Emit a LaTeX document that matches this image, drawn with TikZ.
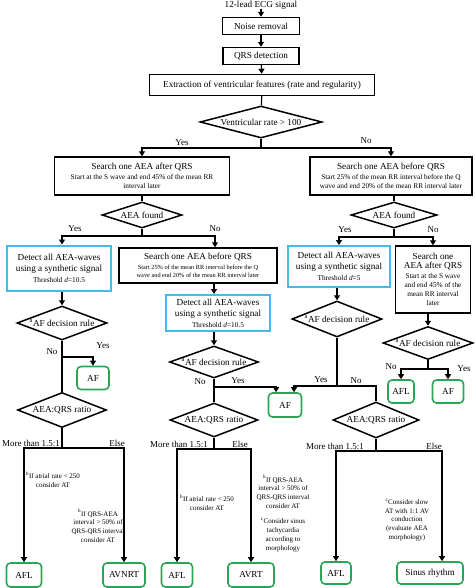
\documentclass[tikz,border=0pt]{standalone}
\usepackage{fontspec}
\setmainfont{Liberation Serif}
\usetikzlibrary{shapes.geometric,arrows.meta}
\definecolor{cyanB}{RGB}{70,185,230}
\definecolor{greenB}{RGB}{40,165,85}
\newcommand\fmain{\fontsize{9.2}{11}\selectfont}
\newcommand\fsmall{\fontsize{7.3}{9}\selectfont}
\newcommand\fsmaller{\fontsize{6.3}{8.5}\selectfont}
\newcommand\fann{\fontsize{7}{8.8}\selectfont}
\newcommand\flab{\fontsize{9}{10}\selectfont}
\begin{document}
\begin{tikzpicture}[x=1pt,y=-1pt,
  blk/.style={draw, line width=1.4pt, inner sep=1pt, align=center, font=\fmain},
  srch/.style={draw, line width=1.4pt, inner sep=1pt, align=center, font=\fsmall},
  cyb/.style={draw=cyanB, line width=2pt, inner sep=1pt, align=center, font=\fmain},
  grb/.style={draw=greenB, line width=1.6pt, rounded corners=4pt, inner sep=1pt, font=\fmain},
  dia/.style={draw, diamond, aspect=1, line width=1.5pt, inner sep=0pt, font=\fmain},
  lab/.style={font=\flab, inner sep=0pt},
  ann/.style={font=\fann, align=center, inner sep=0pt},
  con/.style={line width=1.2pt},
  arr/.style={con, -{Triangle[width=6pt,length=5pt]}}]
\useasboundingbox (0,0) rectangle (474,588);

% top chain
\node[font=\fmain, inner sep=0pt] (sig) at (261,5) {12-lead ECG signal};
\node[blk, minimum width=77, minimum height=17] (noise) at (261,26) {Noise removal};
\node[blk, minimum width=76, minimum height=17] (qrsd) at (261,56) {QRS detection};
\node[blk, minimum width=225, minimum height=21] (extr) at (262,85) {Extraction of ventricular features (rate and regularity)};
\node[dia, minimum width=122, minimum height=32] (vr) at (261,122) {\makebox[0pt]{Ventricular rate > 100}};
\draw[arr] (sig) -- (noise);
\draw[arr] (noise) -- (qrsd);
\draw[arr] (qrsd) -- (extr);
\draw[con] (extr) -- (vr);
\coordinate (vj) at (261,148);
\draw[con] (vr.south) -- (vj);
\node[lab] (y0) at (182,143) {Yes};
\node[lab] (n0) at (366,141) {No};

% left branch
\node[srch, minimum width=175, minimum height=38] (ls) at (142,176)
  {{\fmain Search one AEA after QRS}\\[1pt]Start at the S wave and end 45\% of the mean RR\\interval later};
\draw[arr] (vj) -| (ls.north);
\node[dia, minimum width=80, minimum height=26] (laf) at (142,215) {\makebox[0pt]{AEA found}};
\draw[con] (ls) -- (laf);
\coordinate (lj) at (142,236);
\draw[con] (laf.south) -- (lj);
\node[lab] (y1) at (75,229) {Yes};
\node[lab] (n1) at (215,229) {No};

\node[cyb, minimum width=104, minimum height=45] (lcy) at (59,268)
  {Detect all AEA-waves\\using a synthetic signal\\{\fsmall Threshold \textit{d}=10.5}};
\draw[arr] (lj) -| ([xshift=3pt]lcy.north);
\node[dia, minimum width=90, minimum height=34] (ldr) at (62,323) {\makebox[0pt]{\textsuperscript{a}AF decision rule}};
\draw[arr] (ldr.north |- lcy.south) -- (ldr.north);
\node[grb, minimum width=32, minimum height=23] (laF) at (93,378) {AF};
\coordinate (lj2) at (62,357);
\draw[arr] (lj2) -| (laF.north);
\node[lab] (n2) at (52,352) {No};
\node[lab] (y2) at (103,346) {Yes};
\node[dia, minimum width=89, minimum height=35] (lq) at (62,410) {\makebox[0pt]{AEA:QRS ratio}};
\draw[con] (ldr.south) -- (lq.north);
\coordinate (lj3) at (62,448);
\draw[con] (lq.south) -- (lj3);
\node[grb, minimum width=35, minimum height=24] (lafl) at (24,575) {AFL};
\node[grb, minimum width=42, minimum height=24] (avnrt) at (124,575) {AVNRT};
\draw[arr] (lj3) -| (lafl.north);
\draw[arr] (lj3) -| (avnrt.north);
\node[lab] (m1) at (31,443) {More than 1.5:1};
\node[lab] (e1) at (117,443) {Else};
\node[ann] (a1) at (53,480) {\textsuperscript{b}If atrial rate < 250\\consider AT};
\node[ann] (a2) at (98,526) {\textsuperscript{b}If QRS-AEA\\interval > 50\% of\\QRS-QRS interval\\consider AT};

% middle branch
\node[srch, minimum width=158, minimum height=35, font=\fsmaller] (mcs) at (198,265.5)
  {{\fmain Search one AEA before QRS}\\[1.5pt]Start 25\% of the mean RR interval before the Q\\wave and end 20\% of the mean RR interval later};
\draw[arr] (lj) -| ([xshift=17pt]mcs.north);
\node[cyb, minimum width=104, minimum height=36] (mcy) at (218,313)
  {Detect all AEA-waves\\using a synthetic signal\\{\fsmall Threshold \textit{d}=10.5}};
\node[dia, minimum width=89, minimum height=32] (mdr) at (214,362) {\makebox[0pt]{\textsuperscript{a}AF decision rule}};
\draw[arr] (mdr.north |- mcs.south) -- (mdr.north |- mcy.north);
\draw[arr] (mdr.north |- mcy.south) -- (mdr.north);
\node[grb, minimum width=33, minimum height=24] (af) at (285,405) {AF};
\coordinate (mj) at (214,387);
\draw[arr] (mj) -| ([xshift=-9pt]af.north);
\node[lab] (n3) at (200,382) {No};
\node[lab] (y3) at (238,381) {Yes};
\node[dia, minimum width=88, minimum height=34] (mq) at (214,420) {\makebox[0pt]{AEA:QRS ratio}};
\draw[con] (mdr.south) -- (mq.north);
\coordinate (mj2) at (214,449);
\draw[con] (mq.south) -- (mj2);
\node[grb, minimum width=31, minimum height=24] (mafl) at (177,575) {AFL};
\node[grb, minimum width=46, minimum height=24] (avrt) at (251,575) {AVRT};
\draw[arr] (mj2) -| (mafl.north);
\draw[arr] (mj2) -| (avrt.north);
\node[lab] (m2) at (179,444) {More than 1.5:1};
\node[lab] (e2) at (240,444) {Else};
\node[ann] (a3) at (207,503) {\textsuperscript{b}If atrial rate < 250\\consider AT};
\node[ann] (a4) at (283,492) {\textsuperscript{b}If QRS-AEA\\interval > 50\% of\\QRS-QRS interval\\consider AT};
\node[ann] (a5) at (283,535) {\textsuperscript{c}Consider sinus\\tachycardia\\according to\\morphology};

% right branch
\node[srch, minimum width=162, minimum height=38] (rs) at (391,176)
  {{\fmain Search one AEA before QRS}\\[1pt]Start 25\% of the mean RR interval before the Q\\wave and end 20\% of the mean RR interval later};
\draw[arr] (vj) -| (rs.north);
\node[dia, minimum width=86, minimum height=26] (rafd) at (394,215) {\makebox[0pt]{AEA found}};
\draw[con] (rafd.north |- rs.south) -- (rafd.north);
\coordinate (rj) at (394,237);
\draw[con] (rafd.south) -- (rj);
\node[lab] (y4) at (345,230) {Yes};
\node[lab] (n4) at (433,230) {No};
\node[cyb, minimum width=102, minimum height=41] (rcy) at (339,266.5)
  {Detect all AEA-waves\\using a synthetic signal\\{\fsmall Threshold \textit{d}=5}};
\draw[arr] (rj) -| (rcy.north);
\node[blk, minimum width=75, minimum height=67, font=\fsmall] (rrs) at (433,279.5)
  {{\fmain Search one}\\{\fmain AEA after QRS}\\[1pt]Start at the S wave\\and end 45\% of the\\mean RR interval\\later};
\draw[arr] (rj) -| (rrs.north);
\node[dia, minimum width=90, minimum height=36] (rdr) at (337,319) {\makebox[0pt]{\textsuperscript{a}AF decision rule}};
\draw[arr] (rdr.north |- rcy.south) -- (rdr.north);
\node[dia, minimum width=90, minimum height=33] (rrdr) at (428,343) {\makebox[0pt]{\textsuperscript{a}AF decision rule}};
\draw[arr] (rrdr.north |- rrs.south) -- (rrdr.north);
\coordinate (rj2) at (428,369);
\draw[con] (rrdr.south) -- (rj2);
\node[grb, minimum width=26, minimum height=23] (rafl) at (401,391.5) {AFL};
\node[grb, minimum width=31, minimum height=23] (raF) at (448,391.5) {AF};
\draw[arr] (rj2) -| (rafl.north);
\draw[arr] (rj2) -| (raF.north);
\node[lab] (n5) at (391,367) {No};
\node[lab] (y5) at (464,369) {Yes};

\coordinate (rj3) at (337,386);
\draw[con] (rdr.south) -- (rj3);
\draw[arr] (rj3) -| ([xshift=9pt]af.north);
\node[dia, minimum width=86, minimum height=36] (rq) at (376,420) {\makebox[0pt]{AEA:QRS ratio}};
\draw[con] (rj3) -| (rq.north);
\node[lab] (y6) at (321,380) {Yes};
\node[lab] (n6) at (356,381) {No};
\coordinate (rj4) at (376,451);
\draw[con] (rq.south) -- (rj4);
\node[grb, minimum width=30, minimum height=22] (rafl2) at (336,573) {AFL};
\node[grb, minimum width=66, minimum height=22] (sinus) at (430,573) {Sinus rhythm};
\draw[arr] (rj4) -| (rafl2.north);
\draw[arr] (rj4) -| ([xshift=12pt]sinus.north);
\node[lab] (m3) at (335,446) {More than 1.5:1};
\node[lab] (e3) at (434,446) {Else};
\node[ann] (a6) at (407,520) {\textsuperscript{c}Consider slow\\AT with 1:1 AV\\conduction\\(evaluate AEA\\morphology)};
\end{tikzpicture}
\end{document}
